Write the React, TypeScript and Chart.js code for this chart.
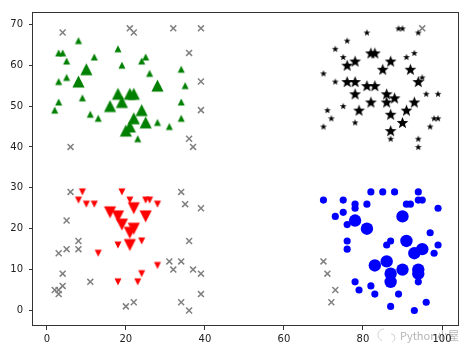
import React, { useEffect, useRef } from 'react';
import { Chart, registerables } from 'chart.js';

Chart.register(...registerables);

const xTicks = [0, 20, 40, 60, 80, 100];
const yTicks = [0, 10, 20, 30, 40, 50, 60, 70];

const greenX = [8, 3, 4, 5, 12, 18, 19, 10, 5, 3, 8, 24, 25, 26, 34, 28, 35, 9, 3, 2, 18, 21, 22, 19, 16, 34, 11, 13, 24, 22, 25, 28, 31, 34, 21, 20, 23];
const greenY = [66, 63, 63, 61, 62, 64, 60, 59, 57, 56, 56, 61, 62, 58, 59, 55, 55, 52, 51, 49, 53, 53, 53, 51, 50, 51, 48, 47, 49, 47, 46, 46, 45, 47, 45, 44, 42];
const greenS = [20, 20, 20, 20, 20, 20, 20, 60, 20, 20, 60, 20, 20, 20, 20, 60, 20, 20, 20, 20, 60, 60, 60, 60, 60, 20, 20, 20, 60, 60, 60, 20, 20, 20, 60, 60, 20];

const redX = [9, 8, 10, 12, 19, 21, 22, 25, 26, 28, 16, 18, 25, 19, 22, 21, 18, 21, 24, 13, 28, 24, 18, 23];
const redY = [29, 27, 26, 26, 29, 27, 25, 27, 27, 26, 24, 23, 23, 21, 20, 19, 16, 16, 17, 14, 11, 9, 7, 7];
const redS = [20, 20, 20, 20, 20, 20, 60, 20, 20, 20, 60, 60, 60, 60, 60, 60, 20, 60, 20, 20, 20, 20, 20, 20];

const blackX = [81, 89, 90, 94, 76, 73, 82, 83, 75, 78, 76, 91, 93, 87, 85, 92, 70, 73, 76, 78, 95, 94, 81, 83, 78, 86, 88, 96, 99, 86, 82, 93, 75, 79, 91, 71, 72, 70, 78, 87, 90, 98, 99, 97, 87, 87, 94, 94];
const blackY = [68, 69, 69, 68, 66, 64, 63, 63, 62, 61, 60, 62, 63, 61, 59, 59, 58, 56, 56, 56, 57, 56, 55, 55, 53, 53, 52, 53, 53, 51, 51, 51, 50, 49, 49, 49, 47, 45, 46, 48, 46, 47, 47, 45, 44, 42, 42, 40];
const blackS = [20, 20, 20, 20, 20, 20, 60, 60, 20, 60, 60, 20, 20, 60, 60, 60, 20, 20, 60, 60, 20, 60, 60, 60, 60, 60, 60, 20, 20, 60, 60, 60, 20, 60, 60, 20, 20, 20, 20, 60, 60, 20, 20, 20, 60, 20, 20, 20];

const blueX = [70, 75, 82, 85, 88, 94, 94, 95, 78, 78, 81, 91, 92, 99, 75, 73, 90, 78, 76, 81, 97, 76, 87, 86, 91, 99, 95, 76, 93, 98, 86, 83, 90, 94, 94, 87, 87, 78, 94, 82, 79, 83, 89, 96, 87, 93];
const blueY = [27, 27, 29, 29, 29, 29, 27, 27, 26, 25, 26, 26, 26, 25, 24, 23, 23, 22, 21, 20, 19, 17, 17, 16, 17, 16, 15, 15, 14, 14, 12, 11, 10, 10, 9, 9, 7, 7, 7, 6, 5, 4, 4, 2, 1, 0];
const blueS = [20, 20, 20, 20, 20, 20, 20, 20, 20, 20, 20, 20, 20, 20, 20, 20, 60, 60, 20, 60, 20, 20, 20, 20, 60, 20, 60, 20, 60, 20, 60, 60, 60, 60, 60, 60, 60, 20, 20, 20, 20, 20, 20, 20, 20, 20];

const grayX = [4, 21, 22, 32, 39, 36, 39, 39, 6, 36, 37, 6, 34, 35, 39, 5, 8, 8, 5, 3, 36, 31, 34, 32, 37, 39, 4, 11, 4, 2, 3, 3, 39, 34, 22, 20, 36, 70, 71, 73, 72, 95];
const grayY = [68, 69, 68, 69, 69, 63, 56, 49, 40, 42, 40, 29, 29, 26, 25, 22, 17, 15, 15, 14, 17, 12, 12, 10, 10, 9, 9, 7, 6, 5, 5, 4, 4, 2, 2, 1, 0, 12, 9, 5, 2, 69];

const watermark = 'Python小屋';

function toPoints(xs: number[], ys: number[]) {
  return xs.map((x, i) => ({ x, y: ys[i] }));
}

const markerCache: Record<string, HTMLCanvasElement> = {};
function marker(kind: string, size: number, color: string): HTMLCanvasElement {
  const key = kind + size.toFixed(2) + color;
  if (markerCache[key]) return markerCache[key];
  const w = Math.ceil(size) + 2;
  const c = document.createElement('canvas');
  c.width = w;
  c.height = w;
  const g = c.getContext('2d') as CanvasRenderingContext2D;
  const cx = w / 2;
  const cy = w / 2;
  const h = size / 2;
  g.fillStyle = color;
  g.beginPath();
  if (kind === 'up') {
    g.moveTo(cx, cy - h);
    g.lineTo(cx + h, cy + h);
    g.lineTo(cx - h, cy + h);
  } else if (kind === 'down') {
    g.moveTo(cx, cy + h);
    g.lineTo(cx + h, cy - h);
    g.lineTo(cx - h, cy - h);
  } else {
    for (let i = 0; i < 10; i++) {
      const r = i % 2 === 0 ? h : h * 0.42;
      const a = -Math.PI / 2 + (i * Math.PI) / 5;
      const px = cx + r * Math.cos(a);
      const py = cy + h * 0.1 + r * Math.sin(a);
      if (i === 0) g.moveTo(px, py);
      else g.lineTo(px, py);
    }
  }
  g.closePath();
  g.fill();
  markerCache[key] = c;
  return c;
}

const framePlugin = {
  id: 'frameAndMark',
  beforeDraw(chart: any) {
    const ctx = chart.ctx;
    ctx.save();
    ctx.fillStyle = '#ffffff';
    ctx.fillRect(0, 0, chart.width, chart.height);
    ctx.strokeStyle = 'rgba(150,150,150,0.4)';
    ctx.lineWidth = 1;
    ctx.beginPath();
    ctx.arc(384, 335, 6, Math.PI * 0.6, Math.PI * 1.5);
    ctx.stroke();
    ctx.beginPath();
    ctx.arc(391, 338, 4, Math.PI * 1.5, Math.PI * 0.4);
    ctx.stroke();
    ctx.fillStyle = 'rgba(130,130,130,0.6)';
    ctx.font = '11px "Noto Sans CJK SC", "DejaVu Sans"';
    ctx.textBaseline = 'middle';
    ctx.textAlign = 'left';
    ctx.fillText(watermark, 400, 336);
    ctx.restore();
  },
  afterDraw(chart: any) {
    const { ctx, chartArea: a } = chart;
    ctx.save();
    ctx.strokeStyle = '#333333';
    ctx.lineWidth = 1;
    const l = Math.round(a.left) - 0.5;
    const t = Math.round(a.top) + 0.5;
    const r = Math.round(a.right) - 0.5;
    const b = Math.round(a.bottom) - 0.5;
    ctx.strokeRect(l, t, r - l, b - t);
    ctx.restore();
  },
};

export default function App() {
  const ref = useRef<HTMLCanvasElement | null>(null);

  useEffect(() => {
    if (!ref.current) return;
    const triSize = (s: number) => Math.sqrt(s) * 1.57;
    const starSize = (s: number) => Math.sqrt(s) * 1.6;
    const tickFont = { family: '"DejaVu Sans"', size: 10 };

    const chart = new Chart(ref.current, {
      type: 'scatter',
      data: {
        datasets: [
          {
            data: toPoints(grayX, grayY),
            pointStyle: 'crossRot',
            pointRadius: 4.2,
            pointBorderColor: '#808080',
            pointBackgroundColor: '#808080',
            pointBorderWidth: 1.5,
          },
          {
            data: toPoints(blueX, blueY),
            pointStyle: 'circle',
            pointRadius: (c: any) => Math.sqrt(blueS[c.dataIndex] ?? 20) * 0.8,
            pointBackgroundColor: '#0000ff',
            pointBorderWidth: 0,
            pointBorderColor: '#0000ff',
          },
          {
            data: toPoints(redX, redY),
            pointStyle: (c: any) => marker('down', triSize(redS[c.dataIndex] ?? 20), '#ff0000'),
            pointRadius: 5,
            pointBorderWidth: 0,
          },
          {
            data: toPoints(blackX, blackY),
            pointStyle: (c: any) => marker('star', starSize(blackS[c.dataIndex] ?? 20), '#000000'),
            pointRadius: 5,
            pointBorderWidth: 0,
          },
          {
            data: toPoints(greenX, greenY),
            pointStyle: (c: any) => marker('up', triSize(greenS[c.dataIndex] ?? 20), '#008000'),
            pointRadius: 5,
            pointBorderWidth: 0,
          },
        ],
      },
      options: {
        responsive: false,
        animation: false,
        events: [],
        layout: { padding: { left: 0, top: 9, right: 15, bottom: 0 } },
        plugins: {
          legend: { display: false },
          tooltip: { enabled: false },
        },
        scales: {
          x: {
            type: 'linear',
            min: -3.5,
            max: 104.3,
            afterBuildTicks: (scale: any) => {
              scale.ticks = xTicks.map((v) => ({ value: v }));
            },
            afterFit: (scale: any) => {
              scale.height = 32;
            },
            border: { display: false },
            grid: { drawOnChartArea: false, drawTicks: true, tickLength: 4, color: '#333333' },
            ticks: { font: tickFont, color: '#222222', padding: 3, maxRotation: 0 },
          },
          y: {
            type: 'linear',
            min: -3.8,
            max: 73,
            afterBuildTicks: (scale: any) => {
              scale.ticks = yTicks.map((v) => ({ value: v }));
            },
            afterFit: (scale: any) => {
              scale.width = 33;
            },
            border: { display: false },
            grid: { drawOnChartArea: false, drawTicks: true, tickLength: 4, color: '#333333' },
            ticks: { font: tickFont, color: '#222222', padding: 6 },
          },
        },
      },
      plugins: [framePlugin],
    } as any);

    return () => chart.destroy();
  }, []);

  return (
    <div style={{ position: 'fixed', left: 0, top: 0, width: 474, height: 358, background: '#fff' }}>
      <canvas ref={ref} width={474} height={358} style={{ display: 'block', width: 474, height: 358 }} />
    </div>
  );
}
